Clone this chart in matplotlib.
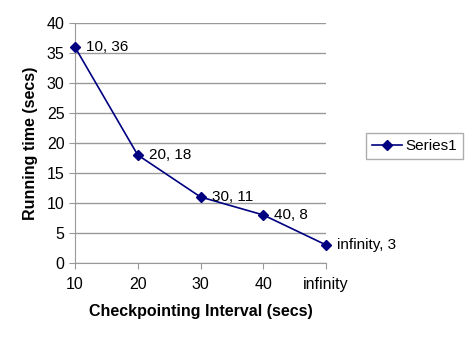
import matplotlib
matplotlib.use('Agg')
import matplotlib.pyplot as plt

plt.rcParams['font.family'] = ['Liberation Sans', 'DejaVu Sans']

# checkpointing interval categories and measured running times
intervals = ['10', '20', '30', '40', 'infinity']
running_time = [36, 18, 11, 8, 3]
point_labels = ['10, 36', '20, 18', '30, 11', '40, 8', 'infinity, 3']

fig = plt.figure(figsize=(4.74, 3.38), dpi=100)
ax = fig.add_axes([0.158, 0.222, 0.530, 0.710])

pos = list(range(len(intervals)))
ax.plot(pos, running_time, color='#000080', marker='D', markersize=5.5,
        linewidth=1.2, label='Series1', clip_on=False, zorder=3)

for x, y, lab in zip(pos, running_time, point_labels):
    ax.annotate(lab, (x, y), xytext=(8, 0), textcoords='offset points',
                va='center', ha='left', fontsize=11)

ax.set_xlim(0, len(intervals) - 1)
ax.set_ylim(0, 40)
ax.set_yticks(range(0, 41, 5))
ax.set_xticks(pos)
ax.set_xticklabels(intervals)
ax.grid(axis='y', color='#999999', linewidth=1)
ax.set_axisbelow(True)

for side in ['top', 'right']:
    ax.spines[side].set_visible(False)
for side in ['left', 'bottom']:
    ax.spines[side].set_color('#999999')
ax.tick_params(colors='#999999', labelcolor='black', labelsize=11.5,
               length=4)
ax.tick_params(axis='x', pad=6)

ax.set_xlabel('Checkpointing Interval (secs)', fontsize=11.5,
              fontweight='bold', labelpad=9)
ax.set_ylabel('Running time (secs)', fontsize=11.5, fontweight='bold',
              labelpad=6)

fig.legend(loc='center left', bbox_to_anchor=(0.755, 0.567), fontsize=11,
           frameon=True, fancybox=False, edgecolor='#999999',
           handlelength=2.0, borderpad=0.4, handletextpad=0.2)

fig.savefig('out.png', dpi=100)
